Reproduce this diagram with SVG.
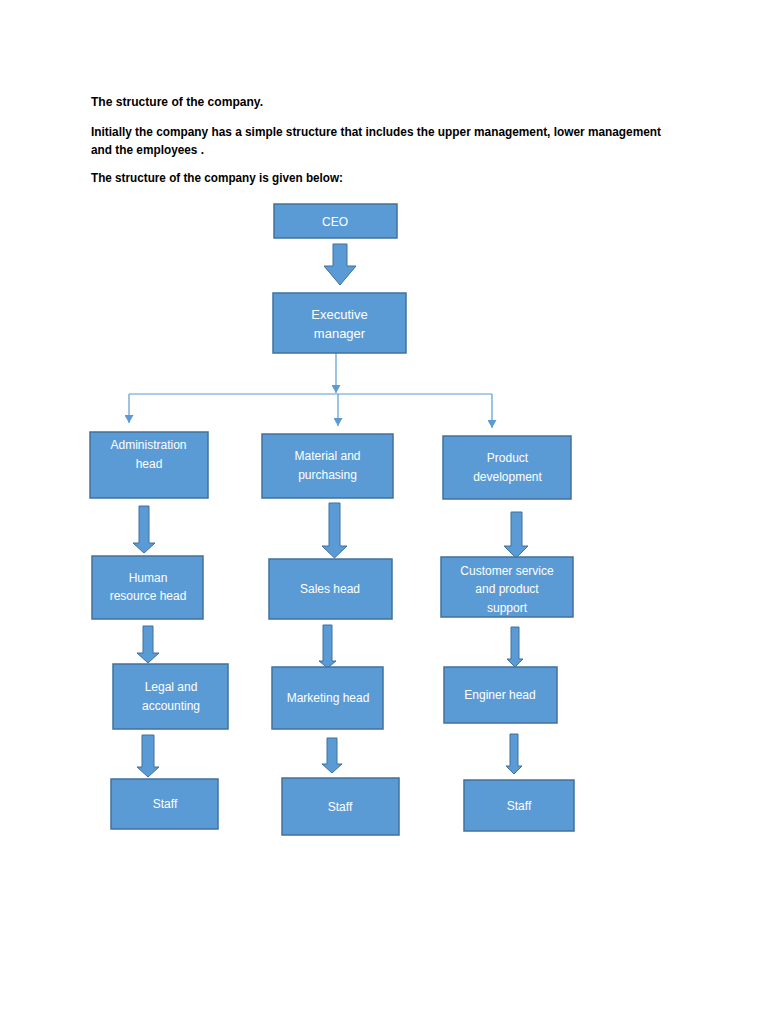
<svg xmlns="http://www.w3.org/2000/svg" width="768" height="1024" viewBox="0 0 768 1024">
  <defs>
    <style>
      .hdr { font-family: "Liberation Sans", Arial, sans-serif; font-weight: bold; font-size: 12.5px; fill: #000; }
      .box { fill: #5B9BD5; stroke: #41719C; stroke-width: 1.5; }
      .lbl { font-family: "Liberation Sans", Arial, sans-serif; font-size: 12px; fill: #fff; text-anchor: middle; }
      .big { font-size: 13px; }
      .blk { fill: #5B9BD5; stroke: #41719C; stroke-width: 1; }
      .thin { fill: none; stroke: #5B9BD5; stroke-width: 1.2; }
    </style>
    <marker id="tri" markerUnits="userSpaceOnUse" markerWidth="9" markerHeight="8" viewBox="0 0 9 8" refX="4.5" refY="8" orient="auto-start-reverse">
      <path d="M0 0 L9 0 L4.5 8 Z" fill="#5B9BD5"/>
    </marker>
    <marker id="tri2" markerUnits="userSpaceOnUse" markerWidth="9" markerHeight="8" viewBox="0 0 9 8" refX="4.5" refY="8" orient="0">
      <path d="M0 0 L9 0 L4.5 8 Z" fill="#5B9BD5"/>
    </marker>
  </defs>
  <rect width="768" height="1024" fill="#fff"/>

  <g id="header">
    <text class="hdr" x="91" y="106" textLength="172" lengthAdjust="spacingAndGlyphs">The structure of the company.</text>
    <text class="hdr" x="91" y="136" textLength="570" lengthAdjust="spacingAndGlyphs">Initially the company has a simple structure that includes the upper management, lower management</text>
    <text class="hdr" x="91" y="154" textLength="113" lengthAdjust="spacingAndGlyphs">and the employees .</text>
    <text class="hdr" x="91" y="182" textLength="252" lengthAdjust="spacingAndGlyphs">The structure of the company is given below:</text>
  </g>

  <g id="connectors">
    <path class="blk" d="M333 244 H347 V266 H356 L340 285 L324 266 H333 Z"/>
    <path class="blk" d="M139 506 H149 V543 H155 L144 553 L133 543 H139 Z"/>
    <path class="blk" d="M329 503 H340 V546 H347 L334.5 558 L322 546 H329 Z"/>
    <path class="blk" d="M511 512 H522 V546 H528 L516 558 L504 546 H511 Z"/>
    <path class="blk" d="M143 626 H153 V653 H159 L148 663 L137 653 H143 Z"/>
    <path class="blk" d="M323 625 H332 V661 H336 L327.5 668 L319 661 H323 Z"/>
    <path class="blk" d="M511 627 H519 V659 H523 L515 667 L507 659 H511 Z"/>
    <path class="blk" d="M142 735 H154 V767 H159 L148 777 L137 767 H142 Z"/>
    <path class="blk" d="M327 738 H337 V764 H342 L332 773 L322 764 H327 Z"/>
    <path class="blk" d="M510 734 H518 V766 H522 L514 774 L506 766 H510 Z"/>
    <path class="thin" d="M336 353 V393" marker-end="url(#tri2)"/>
    <path class="thin" d="M129 394 H492"/>
    <path class="thin" d="M129 394 V423" marker-end="url(#tri2)"/>
    <path class="thin" d="M338 394 V426" marker-end="url(#tri2)"/>
    <path class="thin" d="M492 394 V428" marker-end="url(#tri2)"/>
  </g>

  <g id="ceo">
    <rect class="box" x="274" y="204" width="123" height="34"/>
    <text class="lbl" x="335" y="226">CEO</text>
  </g>
  <g id="executive-manager">
    <rect class="box" x="273" y="293" width="133" height="60"/>
    <text class="lbl big" x="339.5" y="319">Executive</text>
    <text class="lbl big" x="339.5" y="338">manager</text>
  </g>
  <g id="administration-head">
    <rect class="box" x="90" y="432" width="118" height="66"/>
    <text class="lbl" x="148.5" y="449">Administration</text>
    <text class="lbl" x="149" y="468">head</text>
  </g>
  <g id="material-purchasing">
    <rect class="box" x="262" y="434" width="131" height="64"/>
    <text class="lbl" x="327.5" y="460">Material and</text>
    <text class="lbl" x="327.5" y="479">purchasing</text>
  </g>
  <g id="product-development">
    <rect class="box" x="443" y="436" width="128" height="63"/>
    <text class="lbl" x="507.5" y="462">Product</text>
    <text class="lbl" x="507.5" y="481">development</text>
  </g>
  <g id="human-resource-head">
    <rect class="box" x="92" y="556" width="111" height="63"/>
    <text class="lbl" x="148" y="582">Human</text>
    <text class="lbl" x="148" y="600">resource head</text>
  </g>
  <g id="sales-head">
    <rect class="box" x="269" y="559" width="123" height="60"/>
    <text class="lbl" x="330" y="593">Sales head</text>
  </g>
  <g id="customer-service">
    <rect class="box" x="441" y="557" width="132" height="60"/>
    <text class="lbl" x="507" y="575">Customer service</text>
    <text class="lbl" x="507" y="593">and product</text>
    <text class="lbl" x="507" y="612">support</text>
  </g>
  <g id="legal-accounting">
    <rect class="box" x="113" y="664" width="115" height="65"/>
    <text class="lbl" x="171" y="691">Legal and</text>
    <text class="lbl" x="171" y="710">accounting</text>
  </g>
  <g id="marketing-head">
    <rect class="box" x="272" y="667" width="111" height="62"/>
    <text class="lbl" x="328" y="702">Marketing head</text>
  </g>
  <g id="enginer-head">
    <rect class="box" x="444" y="667" width="113" height="56"/>
    <text class="lbl" x="500" y="699">Enginer head</text>
  </g>
  <g id="staff-1">
    <rect class="box" x="111" y="779" width="107" height="50"/>
    <text class="lbl" x="165" y="808">Staff</text>
  </g>
  <g id="staff-2">
    <rect class="box" x="282" y="778" width="117" height="57"/>
    <text class="lbl" x="340" y="811">Staff</text>
  </g>
  <g id="staff-3">
    <rect class="box" x="464" y="780" width="110" height="51"/>
    <text class="lbl" x="519" y="810">Staff</text>
  </g>
</svg>
